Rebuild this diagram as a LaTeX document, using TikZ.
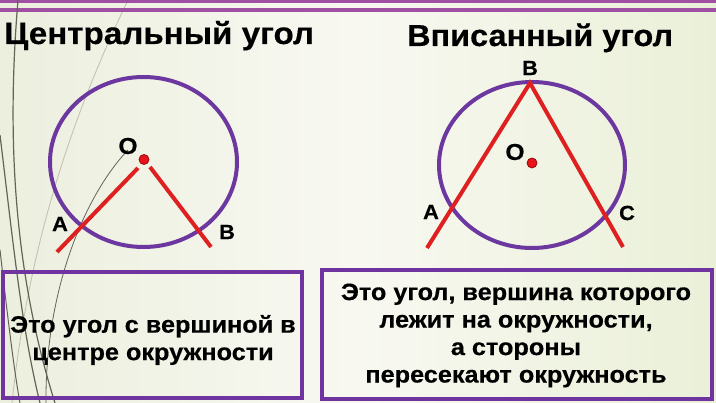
\documentclass[tikz,border=0pt]{standalone}
\usepackage{fontspec}
\setmainfont{Liberation Sans}
\newfontfamily\heavy{Liberation Sans}[FakeStretch=1.07, FakeBold=0.4]
\definecolor{ringc}{RGB}{108,56,160}
\definecolor{boxc}{RGB}{112,52,160}
\definecolor{barc}{RGB}{160,80,162}
\definecolor{rayc}{RGB}{222,32,32}
\definecolor{dotf}{RGB}{232,20,28}
\definecolor{dotd}{RGB}{150,10,10}
\definecolor{bladec}{RGB}{100,100,85}
\definecolor{bgl}{RGB}{236,239,222}
\definecolor{bgm}{RGB}{248,248,241}
\definecolor{bgr}{RGB}{234,240,216}
\begin{document}
\begin{tikzpicture}[x=1pt,y=-1pt,
  title/.style={font=\fontsize{31}{36}\heavy\bfseries, inner sep=0pt, anchor=base west},
  lbl/.style={font=\fontsize{23}{26}\heavy\bfseries, inner sep=0pt},
  slbl/.style={font=\fontsize{20.5}{24}\heavy\bfseries, inner sep=0pt},
  ring/.style={draw=ringc, line width=4pt},
  ray/.style={draw=rayc, line width=4pt},
  dotc/.style={circle, fill=dotf, draw=dotd, line width=0.8pt, minimum size=10pt, inner sep=0pt},
  infobox/.style={draw=boxc, line width=4pt, inner sep=0pt},
  boxtext/.style={align=center, inner sep=0pt, font=\fontsize{23.6}{27.5}\heavy\bfseries},
  blade/.style={draw=bladec, line width=1.2pt},
  bar/.style={fill=barc}
]
\useasboundingbox (0,0) rectangle (716,403);
% background
\shade[left color=bgl, right color=bgr, middle color=bgm] (0,0) rectangle (716,403);
% top bars
\fill[bar] (0,0) rectangle (716,3.5);
\fill[bar] (0,8.5) rectangle (716,12.5);
% decorative blades
\draw[blade] (18,0) .. controls (8,120) and (10,260) .. (55,403);
\draw[blade] (0,135) .. controls (14,250) and (22,330) .. (40,403);
\draw[blade, line width=0.8pt] (128,150) .. controls (85,195) and (45,290) .. (46,403);
\draw[blade, opacity=0.35, line width=0.8pt] (128,0) .. controls (80,100) and (30,230) .. (12,403);
\draw[blade, line width=1pt] (0,250) .. controls (8,320) and (14,370) .. (20,403);

% titles
\node[title] (t1) at (4,44) {Центральный угол};
\node[title, font=\fontsize{30.3}{36}\heavy\bfseries] (t2) at (407,46) {Вписанный угол};

% left figure: central angle
\draw[ring] (143.5,162) ellipse [x radius=93.5, y radius=85];
\coordinate (L1s) at (138,168);
\coordinate (L1e) at (57,252);
\coordinate (L2s) at (150,167);
\coordinate (L2e) at (211,247);
\draw[ray] (L1s) -- (L1e);
\draw[ray] (L2s) -- (L2e);
\node[dotc] (O1) at (144,159.5) {};
\node[lbl] (lO1) at (128,146) {O};
\node[slbl] (lA1) at (60,224) {A};
\node[slbl] (lB1) at (227,232) {B};

% right figure: inscribed angle
\draw[ring] (532,165) ellipse [x radius=93, y radius=83];
\coordinate (RB) at (530,83);
\coordinate (RA) at (427,248);
\coordinate (RC) at (623,247);
\draw[ray, line join=miter] (RA) -- (RB) -- (RC);
\node[dotc] (O2) at (532,163) {};
\node[lbl] (lO2) at (515,152) {O};
\node[slbl] (lB2) at (530,68) {B};
\node[slbl] (lA2) at (431,212) {A};
\node[slbl] (lC2) at (627,213) {C};

% boxes
\node[infobox, minimum width=299pt, minimum height=126pt] (boxL) at (152.5,335) {};
\node[infobox, minimum width=390pt, minimum height=129pt] (boxR) at (517,334.5) {};
\node[boxtext] (txtL) at (153,340) {Это угол с вершиной в\\центре окружности};
\node[boxtext] (txtR) at (516,335.5) {Это угол, вершина которого\\лежит на окружности,\\а стороны\\пересекают окружность};
\end{tikzpicture}
\end{document}
